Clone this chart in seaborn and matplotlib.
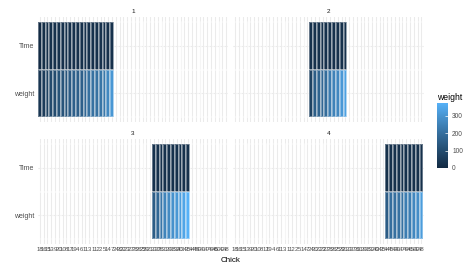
import numpy as np
import pandas as pd
import matplotlib
matplotlib.use("Agg")
import matplotlib.pyplot as plt
import seaborn as sns
from matplotlib.colors import ListedColormap, Normalize
from matplotlib.cm import ScalarMappable

# ---------------- data (ChickWeight, last observation per chick) ----------------
chick_levels = [18, 16, 15, 13, 9, 20, 10, 8, 17, 19, 4, 6, 11, 3, 1, 12, 2, 5, 14, 7,
                24, 30, 22, 23, 27, 28, 26, 25, 29, 21,
                33, 37, 36, 31, 39, 38, 32, 40, 34, 35,
                44, 45, 43, 41, 47, 49, 46, 50, 42, 48]
chick_diet = [1] * 20 + [2] * 10 + [3] * 10 + [4] * 10
final_time = [2, 12, 14, 21, 21, 21, 21, 20, 21, 21, 21, 21, 21, 21, 21, 21, 21, 21, 21, 21,
              21, 21, 21, 21, 21, 21, 21, 21, 21, 21,
              21, 21, 21, 21, 21, 21, 21, 21, 21, 21,
              18, 21, 21, 21, 21, 21, 21, 21, 21, 21]
final_weight = [35, 54, 68, 96, 98, 117, 124, 125, 142, 157, 157, 157, 175, 202, 205, 205, 215, 223, 266, 305,
                74, 150, 167, 175, 192, 233, 251, 265, 309, 331,
                147, 178, 220, 256, 272, 290, 305, 321, 341, 373,
                146, 196, 200, 204, 205, 237, 238, 264, 281, 322]
variables = ["Time", "weight"]
diets = [1, 2, 3, 4]
fill_limits = [0, 373]
fill_ticks = [0, 100, 200, 300]

df = pd.DataFrame({"Chick": chick_levels, "Diet": chick_diet,
                   "Time": final_time, "weight": final_weight})

# ---------------- ggplot default gradient (#132B43 -> #56B1F7 in Lab) ----------------
def _hex2rgb(h):
    h = h.lstrip("#")
    return np.array([int(h[i:i + 2], 16) / 255 for i in (0, 2, 4)])

def _srgb2lin(c):
    return np.where(c <= 0.04045, c / 12.92, ((c + 0.055) / 1.055) ** 2.4)

def _lin2srgb(c):
    c = np.clip(c, 0, 1)
    return np.where(c <= 0.0031308, 12.92 * c, 1.055 * c ** (1 / 2.4) - 0.055)

M = np.array([[0.4124, 0.3576, 0.1805], [0.2126, 0.7152, 0.0722], [0.0193, 0.1192, 0.9505]])
Minv = np.linalg.inv(M)
WP = np.array([0.95047, 1.0, 1.08883])

def _f(t):
    d = 6 / 29
    return np.where(t > d ** 3, np.cbrt(t), t / (3 * d * d) + 4 / 29)

def _finv(t):
    d = 6 / 29
    return np.where(t > d, t ** 3, 3 * d * d * (t - 4 / 29))

def rgb2lab(rgb):
    xyz = M @ _srgb2lin(rgb) / WP
    fx, fy, fz = _f(xyz)
    return np.array([116 * fy - 16, 500 * (fx - fy), 200 * (fy - fz)])

def lab2rgb(lab):
    L, a, b = lab
    fy = (L + 16) / 116
    fx = fy + a / 500
    fz = fy - b / 200
    xyz = np.array([_finv(fx), _finv(fy), _finv(fz)]) * WP
    return _lin2srgb(Minv @ xyz)

lo, hi = rgb2lab(_hex2rgb("#132B43")), rgb2lab(_hex2rgb("#56B1F7"))
cols = [lab2rgb(lo + (hi - lo) * t) for t in np.linspace(0, 1, 256)]
cmap = ListedColormap(cols)

# ---------------- figure ----------------
W, H = 474, 268
fig = plt.figure(figsize=(W / 100, H / 100), dpi=100)
fig.patch.set_facecolor("white")
FONT = ["Liberation Sans", "DejaVu Sans"]
plt.rcParams["font.family"] = FONT

def px_axes(l, t, r, b):
    return fig.add_axes([l / W, 1 - b / H, (r - l) / W, (b - t) / H])

panel_x = [(37.6, 228.4), (232.9, 423.7)]
panel_y = [(17.25, 121.75), (139.25, 243.75)]

n = len(chick_levels)
for k, diet in enumerate(diets):
    row, col = divmod(k, 2)
    l, r = panel_x[col]
    t, b = panel_y[row]
    ax = px_axes(l, t, r, b)
    mat = np.full((2, n), np.nan)
    for j in range(n):
        if chick_diet[j] == diet:
            mat[0, j] = final_time[j]
            mat[1, j] = final_weight[j]
    sns.heatmap(mat, ax=ax, cmap=cmap, vmin=fill_limits[0], vmax=fill_limits[1],
                cbar=False, linewidths=0.35, linecolor=(1, 1, 1, 0.35),
                xticklabels=False, yticklabels=False)
    ax.set_xlim(-0.1, n + 0.1)
    ax.set_ylim(2.1, -0.1)
    ax.set_xticks(np.arange(n) + 0.5)
    ax.set_yticks([0.5, 1.5])
    if row == 1:
        ax.set_xticklabels([str(c) for c in chick_levels], rotation=0,
                           fontsize=4.3, color="#4D4D4D")
    else:
        ax.set_xticklabels([])
    if col == 0:
        ax.set_yticklabels(variables, rotation=0, fontsize=5.0, color="#4D4D4D")
    else:
        ax.set_yticklabels([])
    ax.tick_params(length=0, pad=2.2)
    ax.set_axisbelow(True)
    ax.grid(True, color="#EBEBEB", linewidth=0.75)
    for s in ax.spines.values():
        s.set_visible(False)
    ax.set_facecolor("white")
    ax.set_xlabel("")
    ax.set_ylabel("")
    fig.text(((l + r) / 2) / W, 1 - (t - 5.5) / H, str(diet), ha="center", va="center",
             fontsize=4.6, color="#1A1A1A")

fig.text(230.6 / W, 1 - 261 / H, "Chick", ha="center", va="center",
         fontsize=5.8, color="black")

# ---------------- colourbar ----------------
cax = px_axes(437, 103, 448, 168)
sm = ScalarMappable(norm=Normalize(*fill_limits), cmap=cmap)
cb = fig.colorbar(sm, cax=cax, ticks=fill_ticks)
cb.outline.set_visible(False)
cax.tick_params(direction="in", length=2, width=0.5, color="white", labelsize=4.8,
                labelcolor="#4D4D4D", pad=3)
fig.text(437 / W, 1 - 97 / H, "weight", ha="left", va="center", fontsize=6.2, color="black")

fig.savefig("out.png", dpi=100, facecolor="white")
